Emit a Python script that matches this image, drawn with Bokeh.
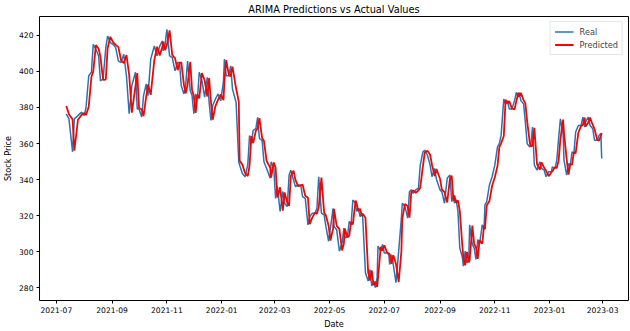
import pandas as pd
from bokeh.plotting import figure
from bokeh.models import Range1d, FixedTicker, Legend, LegendItem
from bokeh.embed import file_html
from bokeh.resources import INLINE

dates = [
    "2021-07-12","2021-07-15","2021-07-19","2021-07-21","2021-07-25","2021-07-29","2021-08-01","2021-08-03","2021-08-06","2021-08-09",
    "2021-08-11","2021-08-14","2021-08-17","2021-08-19","2021-08-22","2021-08-25","2021-08-27","2021-08-30","2021-09-02","2021-09-05",
    "2021-09-08","2021-09-11","2021-09-14","2021-09-17","2021-09-20","2021-09-23","2021-09-27","2021-09-29","2021-10-01","2021-10-04",
    "2021-10-06","2021-10-09","2021-10-11","2021-10-14","2021-10-18","2021-10-21","2021-10-24","2021-10-27","2021-10-28","2021-10-30",
    "2021-11-01","2021-11-04","2021-11-07","2021-11-10","2021-11-13","2021-11-15","2021-11-17","2021-11-20","2021-11-22","2021-11-24",
    "2021-11-27","2021-11-29","2021-12-01","2021-12-03","2021-12-05","2021-12-07","2021-12-10","2021-12-13","2021-12-16","2021-12-18",
    "2021-12-20","2021-12-22","2021-12-25","2021-12-28","2021-12-31","2022-01-03","2022-01-04","2022-01-06","2022-01-09","2022-01-11",
    "2022-01-13","2022-01-17","2022-01-20","2022-01-21","2022-01-24","2022-01-27","2022-01-30","2022-02-01","2022-02-03","2022-02-05",
    "2022-02-08","2022-02-10","2022-02-12","2022-02-15","2022-02-17","2022-02-20","2022-02-24","2022-02-25","2022-02-28","2022-03-02",
    "2022-03-04","2022-03-07","2022-03-10","2022-03-12","2022-03-15","2022-03-17","2022-03-19","2022-03-22","2022-03-24","2022-03-27",
    "2022-03-30","2022-04-01","2022-04-04","2022-04-07","2022-04-09","2022-04-12","2022-04-15","2022-04-17","2022-04-19","2022-04-22",
    "2022-04-25","2022-04-27","2022-04-30","2022-05-02","2022-05-05","2022-05-06","2022-05-09","2022-05-12","2022-05-15","2022-05-17",
    "2022-05-18","2022-05-21","2022-05-23","2022-05-25","2022-05-27","2022-05-30","2022-05-31","2022-06-02","2022-06-04","2022-06-06",
    "2022-06-07","2022-06-10","2022-06-13","2022-06-15","2022-06-17","2022-06-19","2022-06-21","2022-06-23","2022-06-24","2022-06-27",
    "2022-06-29","2022-07-01","2022-07-04","2022-07-06","2022-07-07","2022-07-09","2022-07-11","2022-07-14","2022-07-17","2022-07-20",
    "2022-07-21","2022-07-24","2022-07-27","2022-07-29","2022-07-31","2022-08-02","2022-08-05","2022-08-08","2022-08-10","2022-08-13",
    "2022-08-15","2022-08-18","2022-08-21","2022-08-23","2022-08-26","2022-08-28","2022-09-01","2022-09-03","2022-09-06","2022-09-09",
    "2022-09-12","2022-09-14","2022-09-16","2022-09-17","2022-09-19","2022-09-21","2022-09-23","2022-09-26","2022-09-27","2022-09-29",
    "2022-10-01","2022-10-03","2022-10-04","2022-10-07","2022-10-09","2022-10-11","2022-10-13","2022-10-15","2022-10-18","2022-10-20",
    "2022-10-21","2022-10-23","2022-10-26","2022-10-29","2022-11-01","2022-11-04","2022-11-06","2022-11-08","2022-11-11","2022-11-13",
    "2022-11-15","2022-11-17","2022-11-20","2022-11-23","2022-11-25","2022-11-27","2022-11-28","2022-11-30","2022-12-03","2022-12-05",
    "2022-12-07","2022-12-10","2022-12-11","2022-12-13","2022-12-15","2022-12-18","2022-12-21","2022-12-23","2022-12-26","2022-12-28",
    "2022-12-31","2023-01-03","2023-01-04","2023-01-07","2023-01-09","2023-01-11","2023-01-13","2023-01-16","2023-01-17","2023-01-20",
    "2023-01-22","2023-01-24","2023-01-26","2023-01-28","2023-01-30","2023-02-02","2023-02-05","2023-02-07","2023-02-09","2023-02-10",
    "2023-02-13","2023-02-15","2023-02-18","2023-02-20","2023-02-23","2023-02-25","2023-02-27","2023-02-28",
]

real = [
    376.5,373.7,355.4,373.7,375.5,377.4,375.5,380.0,397.6,399.5,
    415.0,412.3,408.6,394.8,395.8,413.2,419.6,416.0,415.0,413.2,
    405.8,404.9,409.5,397.6,376.5,392.1,399.5,379.2,379.2,374.7,
    386.6,393.0,386.6,406.8,414.1,408.6,414.0,416.9,411.4,415.0,
    423.3,408.6,407.7,400.3,404.9,404.9,392.1,387.5,393.0,405.8,
    389.3,386.6,376.5,387.5,384.7,399.5,394.8,385.7,396.7,382.9,
    372.8,381.1,384.7,387.5,383.8,394.8,406.8,397.6,397.6,403.1,
    390.2,382.9,349.9,348.0,343.4,341.6,348.0,364.5,359.9,367.3,
    368.2,374.5,362.7,361.8,349.9,346.2,340.7,349.9,346.2,329.6,
    336.1,322.3,333.3,326.9,325.0,342.5,345.2,339.7,336.1,337.0,
    337.0,330.6,329.6,314.9,319.5,321.4,321.4,324.1,341.6,321.4,
    320.4,314.0,305.8,313.1,324.1,314.0,312.2,300.3,304.9,313.1,
    307.6,308.6,316.8,314.9,328.7,326.9,322.3,324.1,319.5,321.4,
    318.6,288.3,283.7,290.1,281.0,283.7,280.1,285.6,303.1,300.3,
    304.0,299.3,299.3,298.4,292.9,298.4,292.9,282.8,300.3,318.6,
    326.9,325.0,318.6,333.3,334.3,332.4,334.3,335.2,348.0,355.4,
    356.3,353.5,348.0,341.6,346.2,340.2,334.3,333.3,326.9,340.7,
    342.5,327.8,331.5,326.9,328.7,322.3,302.1,296.6,292.0,300.3,
    293.8,295.7,314.9,304.0,302.1,295.7,306.7,304.0,314.9,312.2,
    326.0,327.8,337.0,341.6,348.0,358.1,359.9,364.5,384.7,382.0,
    383.8,379.2,379.2,383.8,388.4,385.7,388.4,383.8,382.0,371.9,
    359.9,358.1,359.0,369.1,348.0,345.2,349.9,346.2,345.2,341.6,
    344.3,344.3,347.1,346.2,350.8,362.7,373.7,365.5,350.8,342.5,
    348.9,348.0,355.4,354.4,366.4,370.0,370.0,374.7,369.1,371.9,
    374.7,370.0,368.2,361.8,361.8,364.5,365.5,351.7,
]

predicted = [
    380.8,376.2,373.4,356.0,373.2,375.8,377.0,375.9,380.4,397.0,
    399.9,414.6,412.6,408.2,395.3,395.5,412.7,419.2,416.3,414.7,
    413.5,406.2,404.6,409.1,398.2,377.1,391.7,399.1,379.7,378.9,
    375.2,386.2,392.6,387.0,406.3,413.7,408.9,413.6,416.5,411.8,
    414.7,422.8,409.0,407.4,400.7,404.6,405.1,392.5,387.9,392.7,
    405.3,389.7,386.3,377.0,387.1,385.0,399.1,395.1,386.1,396.3,
    383.3,373.2,380.8,384.4,387.2,384.1,394.4,406.3,397.9,397.3,
    402.7,390.6,383.3,350.4,348.3,343.7,341.9,347.7,364.1,360.3,
    367.0,368.5,374.1,363.0,361.5,350.3,346.5,341.1,349.5,346.5,
    330.1,335.7,322.8,332.9,327.2,325.4,342.1,344.9,340.0,336.4,
    336.7,337.3,331.0,329.9,315.3,319.2,321.7,321.1,324.5,341.1,
    321.8,320.1,314.4,306.2,312.8,323.7,314.3,312.5,300.7,304.6,
    312.8,307.9,308.9,316.4,315.2,328.3,327.2,322.6,323.8,319.8,
    321.1,318.9,288.7,284.0,289.7,281.4,283.4,280.5,285.3,302.7,
    300.6,303.6,299.6,299.0,298.7,293.3,298.1,293.2,283.2,300.0,
    318.2,326.5,325.3,318.9,332.9,334.0,332.7,334.0,335.5,347.6,
    355.0,356.0,353.8,348.4,341.9,345.9,340.5,334.6,333.0,327.3,
    340.3,342.2,328.2,331.2,327.2,328.4,322.7,302.5,296.9,292.4,
    299.9,294.1,295.4,314.5,304.3,302.5,296.0,306.4,304.4,314.5,
    312.5,325.6,328.1,336.6,341.3,347.6,357.8,360.1,364.2,384.3,
    382.3,383.5,379.5,379.0,383.5,388.0,386.0,388.1,384.1,382.3,
    372.3,360.3,358.4,358.8,368.7,348.4,345.5,349.6,346.5,345.0,
    341.9,344.1,344.6,346.8,346.5,350.5,362.3,373.3,365.8,351.2,
    342.8,348.6,348.3,355.1,354.7,366.0,369.7,370.3,374.4,369.4,
    371.6,374.4,370.3,368.0,362.1,361.6,364.2,365.9,
]

x_tick_labels = ["2021-07", "2021-09", "2021-11", "2022-01", "2022-03", "2022-05",
                 "2022-07", "2022-09", "2022-11", "2023-01", "2023-03"]
y_ticks = [280, 300, 320, 340, 360, 380, 400, 420]

dt = pd.to_datetime(dates)
x_ms = [t.timestamp() * 1000.0 for t in dt]

x0, x1 = min(x_ms), max(x_ms)
xpad = (x1 - x0) * 0.05
allv = real + predicted
y0, y1 = min(allv), max(allv)
ypad = (y1 - y0) * 0.05

FONT = "DejaVu Sans"

p = figure(width=630, height=331, x_axis_type="datetime",
           output_backend="svg", toolbar_location=None,
           x_range=Range1d(x0 - xpad, x1 + xpad),
           y_range=Range1d(y0 - ypad, y1 + ypad),
           title="ARIMA Predictions vs Actual Values")
p.min_border_left = 37
p.min_border_right = 2
p.min_border_top = 16
p.min_border_bottom = 28
p.background_fill_color = "white"
p.border_fill_color = "white"
p.outline_line_color = "black"
p.outline_line_width = 1
p.grid.visible = False

p.title.text_font = FONT
p.title.text_font_size = "9.8px"
p.title.text_font_style = "normal"
p.title.align = "center"
p.title.text_color = "black"
p.title.offset = 0
p.title.standoff = 3

tick_ms = [pd.Timestamp(s + "-01").timestamp() * 1000.0 for s in x_tick_labels]
p.xaxis.ticker = FixedTicker(ticks=tick_ms)
p.xaxis.major_label_overrides = {t: lab for t, lab in zip(tick_ms, x_tick_labels)}
p.yaxis.ticker = FixedTicker(ticks=y_ticks)

for ax in (p.xaxis[0], p.yaxis[0]):
    ax.axis_line_color = None
    ax.major_tick_in = 0
    ax.major_tick_out = 3
    ax.minor_tick_line_color = None
    ax.major_tick_line_color = "black"
    ax.major_label_text_font = FONT
    ax.major_label_text_font_size = "7.6px"
    ax.major_label_text_color = "black"
    ax.axis_label_text_font = FONT
    ax.axis_label_text_font_size = "8.2px"
    ax.axis_label_text_font_style = "normal"
    ax.axis_label_text_color = "black"
    ax.major_label_standoff = 3
    ax.axis_label_standoff = 3

p.xaxis.axis_label = "Date"
p.yaxis.axis_label = "Stock Price"

r_real = p.line(x_ms, real, line_color="#1f77b4", line_width=1.5)
r_pred = p.line(x_ms, predicted, line_color="red", line_width=1.8)

legend = Legend(items=[LegendItem(label="Real", renderers=[r_real]),
                       LegendItem(label="Predicted", renderers=[r_pred])],
                location="top_right")
legend.margin = 5
legend.padding = 4
legend.spacing = 2
legend.label_text_font = FONT
legend.label_text_font_size = "8.2px"
legend.label_height = 11
legend.glyph_height = 11
legend.glyph_width = 19
legend.label_standoff = 6
legend.border_line_color = "#cccccc"
legend.border_line_width = 1
legend.background_fill_alpha = 0.8
p.add_layout(legend)

open("out.html", "w").write(file_html(p, INLINE))
